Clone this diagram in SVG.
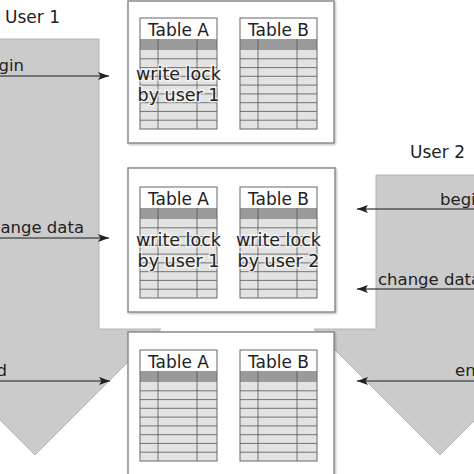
<svg xmlns="http://www.w3.org/2000/svg" xmlns:xlink="http://www.w3.org/1999/xlink" width="474" height="474" viewBox="0 0 474 474">
<style>
text{font-family:"DejaVu Sans","Liberation Sans",sans-serif;fill:#222}
.user{font-size:17px}
.lbl{font-size:16.5px}
.th{font-size:17px;text-anchor:middle}
.lock{font-size:17.5px;text-anchor:middle;stroke:#fff;stroke-opacity:0.6;stroke-width:3;paint-order:stroke}
.flow{fill:#cbcbcb;stroke:#b4b4b4;stroke-width:1}
.box{fill:#fff;stroke:#8c8c8c;stroke-width:1.5}
.conn{stroke:#555;stroke-width:1.3;fill:none;marker-end:url(#ah)}
.grid{stroke:#555;stroke-width:0.8}
</style>
<defs>
<marker id="ah" markerWidth="12" markerHeight="8" refX="11" refY="4" orient="auto" markerUnits="userSpaceOnUse">
<path d="M0,0 L11,4 L0,8 L2.5,4 Z" fill="#222"/>
</marker>
<filter id="sh" x="-5%" y="-5%" width="110%" height="110%">
<feGaussianBlur in="SourceAlpha" stdDeviation="1.2"/>
<feOffset dx="0.5" dy="0.5"/>
<feComponentTransfer><feFuncA type="linear" slope="0.3"/></feComponentTransfer>
<feMerge><feMergeNode/><feMergeNode in="SourceGraphic"/></feMerge>
</filter>
<g id="tbl">
<rect x="0" y="0" width="77" height="21" fill="#fff"/>
<rect x="0" y="21" width="77" height="11" fill="#9a9a9a"/>
<rect x="0" y="32" width="77" height="79" fill="#e3e3e3"/>
<g class="grid">
<line x1="0" y1="40.8" x2="77" y2="40.8"/>
<line x1="0" y1="49.6" x2="77" y2="49.6"/>
<line x1="0" y1="58.3" x2="77" y2="58.3"/>
<line x1="0" y1="67.1" x2="77" y2="67.1"/>
<line x1="0" y1="75.9" x2="77" y2="75.9"/>
<line x1="0" y1="84.7" x2="77" y2="84.7"/>
<line x1="0" y1="93.4" x2="77" y2="93.4"/>
<line x1="0" y1="102.2" x2="77" y2="102.2"/>
<line x1="18" y1="21" x2="18" y2="111"/>
<line x1="57" y1="21" x2="57" y2="111"/>
</g>
<rect x="0" y="0" width="77" height="111" fill="none" stroke="#666" stroke-width="1"/>
</g>
</defs>
<rect width="474" height="474" fill="#fff"/>
<g id="user1">
<path class="flow" d="M-29,39 H99 V329 H161 L35,455 L-91,329 H-29 Z"/>
<text class="user" x="5" y="23">User 1</text>
</g>
<g id="user2">
<path class="flow" d="M376,175 H504 V329 H566 L440,455 L314,329 H376 Z"/>
<text class="user" x="410" y="158">User 2</text>
</g>
<g id="state1" filter="url(#sh)">
<rect class="box" x="128" y="1" width="206" height="142"/>
</g>
<g id="state1-tables">
<use xlink:href="#tbl" x="140" y="18"/>
<use xlink:href="#tbl" x="240" y="18"/>
<text class="th" x="178.5" y="36">Table A</text>
<text class="th" x="278.5" y="36">Table B</text>
<text class="lock" x="178.5" y="80">write lock</text>
<text class="lock" x="178.5" y="101">by user 1</text>
</g>
<g id="state2" filter="url(#sh)">
<rect class="box" x="128" y="168" width="207" height="144"/>
</g>
<g id="state2-tables">
<use xlink:href="#tbl" x="140" y="187"/>
<use xlink:href="#tbl" x="240" y="187"/>
<text class="th" x="178.5" y="205">Table A</text>
<text class="th" x="278.5" y="205">Table B</text>
<text class="lock" x="178.5" y="246">write lock</text>
<text class="lock" x="178.5" y="267">by user 1</text>
<text class="lock" x="278.5" y="246">write lock</text>
<text class="lock" x="278.5" y="267">by user 2</text>
</g>
<g id="state3" filter="url(#sh)">
<rect class="box" x="128" y="332" width="206" height="150"/>
</g>
<g id="state3-tables">
<use xlink:href="#tbl" x="140" y="350"/>
<use xlink:href="#tbl" x="240" y="350"/>
<text class="th" x="178.5" y="368">Table A</text>
<text class="th" x="278.5" y="368">Table B</text>
</g>
<g id="connectors">
<line class="conn" x1="-5" y1="76" x2="109" y2="76"/>
<line class="conn" x1="-5" y1="238" x2="109" y2="238"/>
<line class="conn" x1="-5" y1="381" x2="110" y2="381"/>
<line class="conn" x1="480" y1="209" x2="357" y2="209"/>
<line class="conn" x1="480" y1="289" x2="357" y2="289"/>
<line class="conn" x1="480" y1="381" x2="357" y2="381"/>
</g>
<g id="labels">
<text class="lbl" x="24" y="71" text-anchor="end">begin</text>
<text class="lbl" x="84" y="233" text-anchor="end">change data</text>
<text class="lbl" x="7" y="376" text-anchor="end">end</text>
<text class="lbl" x="440" y="205">begin</text>
<text class="lbl" x="378" y="285">change data</text>
<text class="lbl" x="455" y="376">end</text>
</g>
</svg>
